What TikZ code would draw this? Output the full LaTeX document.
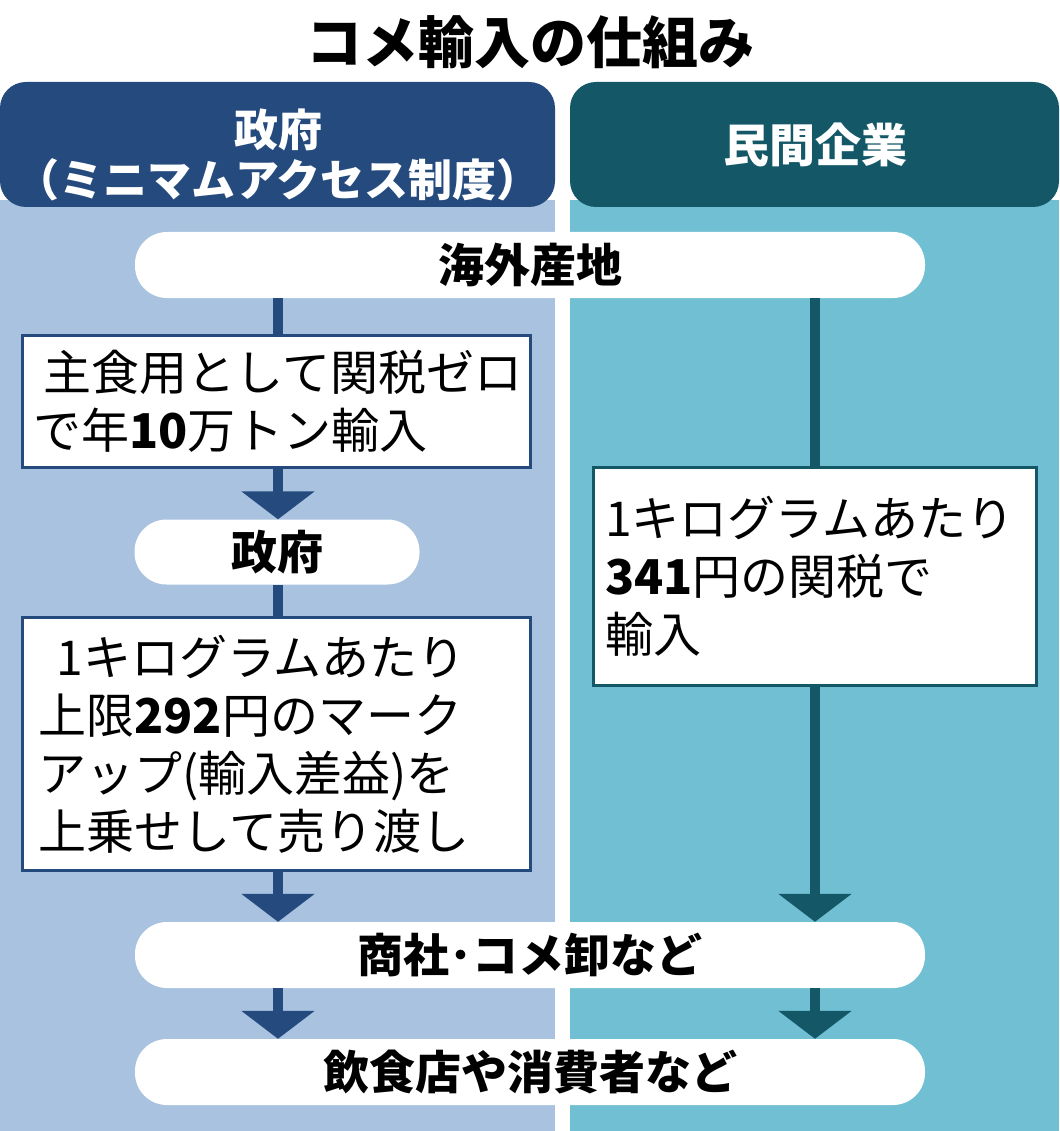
\documentclass[tikz,border=0pt]{standalone}
\usepackage{fontspec}
\setmainfont{Noto Sans CJK JP}
\usetikzlibrary{arrows.meta}
\definecolor{lhead}{HTML}{254B7E}
\definecolor{lbody}{HTML}{A8C2E0}
\definecolor{rhead}{HTML}{145868}
\definecolor{rbody}{HTML}{70BFD3}
\tikzset{
 pill/.style={draw=none,fill=white,rounded corners=32pt,inner sep=0pt,font=\fontsize{46}{50}\selectfont\bfseries},
 box/.style={draw=#1,line width=3pt,fill=white,inner sep=0pt,align=left,font=\fontsize{48}{58}\selectfont},
 lc/.style={line width=10pt,draw=#1},
 ar/.style={line width=10pt,draw=#1,-{Triangle[width=72pt,length=28pt]}},
}
\begin{document}
\begin{tikzpicture}[x=1pt,y=-1pt]
\useasboundingbox (0,0) rectangle (1059,1131);
\fill[white] (0,0) rectangle (1059,1131);
\node[font=\fontsize{56}{60}\selectfont\bfseries] (title) at (530,42) {コメ輸入の仕組み};
% columns
\fill[lbody] (0,200) rectangle (555,1131);
\fill[rbody] (570,200) rectangle (1059,1131);
\fill[lhead,rounded corners=26pt] (0,207) -- (0,82) -- (555,82) -- (555,207) -- cycle;
\fill[rhead,rounded corners=26pt] (570,207) -- (570,82) -- (1059,82) -- (1059,207) -- cycle;
\node[white,font=\fontsize{44}{50}\selectfont\bfseries] (lh1) at (278,130) {政府};
\node[white,font=\fontsize{44}{50}\selectfont\bfseries] (lh2) at (278,180) {（ミニマムアクセス制度）};
\node[white,font=\fontsize{46}{50}\selectfont\bfseries] (rh) at (815,145) {民間企業};
% nodes
\node[pill,minimum width=790pt,minimum height=66pt] (src) at (530,265) {海外産地};
\node[box=lhead,minimum width=508pt,minimum height=132pt,text width=485pt] (b1) at (276,401) {\hspace*{10pt}主食用として関税ゼロ\\で年\textbf{10}万トン輸入};
\node[pill,minimum width=285pt,minimum height=65pt] (gov) at (277,552) {政府};
\node[box=lhead,minimum width=508pt,minimum height=253pt,text width=475pt] (b2) at (276,744) {\hspace*{18pt}1キログラムあたり\\上限\textbf{292}円のマーク\\アップ(輸入差益)を\\上乗せして売り渡し};
\node[box=rhead,minimum width=443pt,minimum height=218pt,text width=420pt] (b3) at (815,576) {1キログラムあたり\\\textbf{341}円の関税で\\輸入};
\node[pill,minimum width=790pt,minimum height=66pt] (trade) at (530,955) {商社･コメ卸など};
\node[pill,minimum width=790pt,minimum height=66pt] (cons) at (530,1072) {飲食店や消費者など};
% connectors
\draw[lc=lhead] (src.south -| 278,0) -- (b1.north -| 278,0);
\draw[ar=lhead] (b1.south -| 278,0) -- (gov.north -| 278,0);
\draw[lc=lhead] (gov.south -| 278,0) -- (b2.north -| 278,0);
\draw[ar=lhead] (b2.south -| 278,0) -- (trade.north -| 278,0);
\draw[ar=lhead] (trade.south -| 278,0) -- (cons.north -| 278,0);
\draw[lc=rhead] (src.south -| 815,0) -- (b3.north -| 815,0);
\draw[ar=rhead] (b3.south -| 815,0) -- (trade.north -| 815,0);
\draw[ar=rhead] (trade.south -| 815,0) -- (cons.north -| 815,0);
\end{tikzpicture}
\end{document}
